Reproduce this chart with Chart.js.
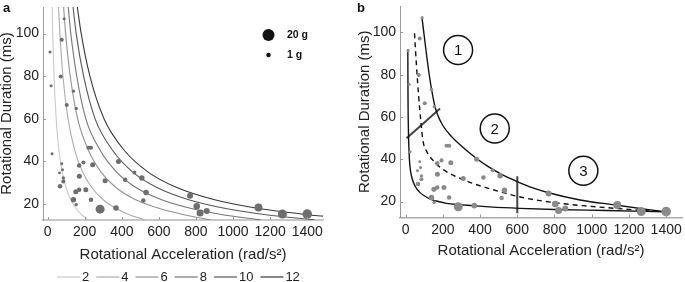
<!DOCTYPE html>
<html>
<head>
<meta charset="utf-8">
<script src="https://cdn.jsdelivr.net/npm/chart.js@4.4.1/dist/chart.umd.min.js"></script>
<style>
  body { margin: 0; background: #fff; width: 685px; height: 282px; overflow: hidden; position: relative; }
  #chartA { position: absolute; left: 0; top: 0; }
  #chartB { position: absolute; left: 340px; top: 0; }
</style>
</head>
<body>
<canvas id="chartA" width="340" height="282"></canvas>
<canvas id="chartB" width="345" height="282"></canvas>
<script>
// impacts: rotational acceleration (rad/s^2), duration (ms), mass (g)
const accel = [89, 76, 13, 71, 19, 139, 103, 154, 24, 220, 234, 76, 193, 64, 80, 170, 243, 382, 85, 85, 171, 67,
  468, 508, 418, 310, 152, 170, 206, 531, 139, 154, 234, 283, 369, 516, 768, 804, 822, 858, 1137, 1266, 1400];
const duration = [107, 97.1, 91.4, 79.9, 75.5, 73, 66.5, 64.9, 43.6, 46.4, 46.4, 38.9, 39.5, 34.6, 36.1, 38.1, 38.4, 40, 32.2, 30.6, 33, 28.3,
  34.8, 32.2, 31.4, 30.9, 25.8, 26.7, 26.7, 25.4, 22, 19.7, 22, 17.6, 18.1, 21.7, 23.9, 18.9, 15.8, 16.7, 18.4, 15.3, 15.3];
const massG = [0.1, 0.6, 0.1, 0.6, 0.1, 0.2, 0.6, 0.2, 0.1, 0.6, 0.6, 0.05, 0.6, 0.05, 0.1, 1.0, 1.5, 1.5, 0.2, 0.6, 1.5, 1.0,
  0.6, 2.0, 1.0, 1.5, 1.5, 1.0, 1.5, 2.0, 2.0, 0.2, 0.9, 9.5, 2.2, 1.0, 2.8, 3.8, 4.6, 2.8, 6.8, 9.5, 11.3];

// iso-lines in panel a, [accel, duration]
const curveLabels = ['2', '4', '6', '8', '10', '12'];
const curve2 = [[24.5, 112.5], [27.5, 100], [34.5, 80], [46, 60], [61, 45], [79, 35], [98, 28], [125, 22], [153, 18], [183, 15], [220, 12.5]];
const curve4 = [[58.5, 112.5], [66, 100], [82.5, 80], [110, 60], [147, 45], [189, 35], [236, 28], [300, 22], [367, 18], [440, 15], [528, 12.5]];
const curve6 = [[86, 112.5], [97, 100], [122, 80], [162, 60], [221, 45], [288, 35], [365, 28], [475, 22], [600, 18], [735, 15], [880, 12.5]];
const curve8 = [[111, 112.5], [125, 100], [157, 80], [206, 60], [285, 45], [372, 35], [472, 28], [615, 22], [770, 18], [945, 15], [1150, 12.5]];
const curve10 = [[137, 112.5], [154, 100], [194, 80], [256, 60], [352, 45], [459, 35], [584, 28], [761, 22], [954, 18], [1177, 15], [1440, 12.5]];
const curve12 = [[160, 112.5], [181, 100], [228, 80], [304, 60], [415, 45], [542, 35], [690, 28], [901, 22], [1132, 18], [1402, 15], [1485, 14.3]];
const curveColors = ['#cacaca', '#adadad', '#939393', '#777777', '#585858', '#383838'];

// panel b boundaries
const upperBound = [[88, 107], [127, 80], [155, 66], [168, 62], [200, 56], [250, 50.5], [300, 46.3], [381, 40.4], [440, 36.8],
  [506, 33.4], [600, 29.5], [680, 26.6], [768, 24.2], [937, 20.8], [1137, 18.3], [1390, 15.2]];
const middleLine = [[48, 99.6], [58, 85], [70, 70], [82, 58], [93, 49], [112, 44], [147, 39.5], [200, 35.3], [260, 32.3], [309, 30.4],
  [362, 28.6], [440, 26.4], [520, 24.4], [600, 22.5], [700, 20.8], [812, 19.4], [950, 18.1], [1116, 16.9], [1250, 16], [1390, 15.2]];
const lowerBound = [[12, 92], [13, 70], [15, 55], [18, 45], [22, 38], [32, 32], [50, 27.5], [75, 24.5], [100, 22.8], [130, 21.3],
  [165, 20.3], [220, 19.2], [280, 18.6], [362, 18.1], [452, 17.5], [614, 16.8], [800, 16.3], [1081, 15.8], [1390, 15.2]];
const splitDiagonal = [[5, 50], [185, 64]];
const splitVertical = [[600, 14.5], [600, 32]];
const zoneX = [282, 479, 955];
const zoneY = [91.7, 54.6, 34.6];
const zoneLabels = ['1', '2', '3'];

const xTicks = [0, 200, 400, 600, 800, 1000, 1200, 1400];
const yTicks = [20, 40, 60, 80, 100];

const FONT = '"Liberation Sans", Arial, sans-serif';
Chart.defaults.font.family = FONT;
Chart.defaults.color = '#222';

const massToRadius = m => 1.2 + 4.8 * Math.sqrt(m / 20);
const toPts = arr => arr.map(p => ({ x: p[0], y: p[1] }));
const impacts = accel.map((a, i) => ({ x: a, y: duration[i] }));

function lineSet(label, pts, color, width, dash) {
  return {
    label, data: toPts(pts), showLine: true, borderColor: color, borderWidth: width,
    borderDash: dash || [], pointRadius: 0, cubicInterpolationMode: 'monotone', fill: false
  };
}

function scalesFor(xMin, xMax, yW, xH, xBorder, yTitlePad, xTitlePad) {
  return {
    x: {
      type: 'linear', min: xMin, max: xMax,
      afterBuildTicks: s => { s.ticks = xTicks.map(v => ({ value: v })); },
      afterFit: s => { s.height = xH; s.paddingLeft = 0; s.paddingRight = 0; },
      grid: { display: false, drawTicks: false },
      border: { color: xBorder.color, width: xBorder.width },
      ticks: { padding: 4, font: { size: 14 }, maxRotation: 0, callback: v => String(v) },
      title: { display: true, text: 'Rotational Acceleration (rad/s²)', font: { size: 15 }, padding: { top: 0, bottom: xTitlePad } }
    },
    y: {
      type: 'linear', min: 12.5, max: 112.5,
      afterBuildTicks: s => { s.ticks = yTicks.map(v => ({ value: v })); },
      afterFit: s => { s.width = yW; s.paddingTop = 0; s.paddingBottom = 0; },
      grid: { display: false, drawTicks: false },
      border: { color: '#999', width: 1 },
      ticks: { padding: 4, font: { size: 14 }, callback: v => String(v) },
      title: { display: true, text: 'Rotational Duration (ms)', font: { size: 15 }, padding: { top: yTitlePad, bottom: 0 } }
    }
  };
}

// small inward tick marks, like the original
const innerTicks = {
  id: 'innerTicks',
  afterDraw(chart) {
    const { ctx, chartArea, scales } = chart;
    ctx.save();
    ctx.strokeStyle = '#999';
    ctx.lineWidth = 1;
    ctx.beginPath();
    xTicks.forEach(v => {
      const px = Math.round(scales.x.getPixelForValue(v)) + 0.5;
      ctx.moveTo(px, chartArea.bottom); ctx.lineTo(px, chartArea.bottom - 3);
    });
    yTicks.forEach(v => {
      const py = Math.round(scales.y.getPixelForValue(v)) + 0.5;
      ctx.moveTo(chartArea.left, py); ctx.lineTo(chartArea.left + 3, py);
    });
    ctx.stroke();
    ctx.restore();
  }
};

const panelLetter = (letter, x) => ({
  id: 'panel' + letter,
  afterDraw(chart) {
    const ctx = chart.ctx;
    ctx.save();
    ctx.fillStyle = '#111';
    ctx.font = 'bold 13px ' + FONT;
    ctx.textBaseline = 'middle';
    ctx.fillText(letter, x, 8);
    ctx.restore();
  }
});

// panel a legends: dot size and iso-line colours
const sizeLegend = {
  id: 'sizeLegend',
  afterDraw(chart) {
    const ctx = chart.ctx;
    ctx.save();
    ctx.fillStyle = '#111';
    ctx.font = 'bold 10.5px ' + FONT;
    ctx.textBaseline = 'middle';
    [[20, 35], [1, 55]].forEach(([m, y]) => {
      ctx.beginPath();
      ctx.arc(268.5, y, massToRadius(m), 0, Math.PI * 2);
      ctx.fill();
      ctx.fillText(m + ' g', 287, y);
    });
    ctx.restore();
  }
};

const curveLegend = {
  id: 'curveLegend',
  afterDraw(chart) {
    const ctx = chart.ctx;
    ctx.save();
    ctx.font = '13px ' + FONT;
    ctx.textBaseline = 'middle';
    let x = 57;
    const y = 277;
    curveLabels.forEach((lab, i) => {
      ctx.strokeStyle = curveColors[i];
      ctx.lineWidth = 1.2;
      ctx.beginPath();
      ctx.moveTo(x, y); ctx.lineTo(x + 23, y);
      ctx.stroke();
      x += 25;
      ctx.fillStyle = '#222';
      ctx.fillText(lab, x, y);
      x += ctx.measureText(lab).width + 7;
    });
    ctx.restore();
  }
};

const zoneText = {
  id: 'zoneText',
  afterDatasetsDraw(chart) {
    const ctx = chart.ctx;
    const meta = chart.getDatasetMeta(0);
    ctx.save();
    ctx.fillStyle = '#111';
    ctx.font = '15px ' + FONT;
    ctx.textAlign = 'center';
    ctx.textBaseline = 'middle';
    meta.data.forEach((pt, i) => ctx.fillText(zoneLabels[i], pt.x, pt.y + 1));
    ctx.restore();
  }
};

const common = {
  responsive: false, animation: false, events: [],
  plugins: { legend: { display: false }, tooltip: { enabled: false } }
};

const curves = [curve2, curve4, curve6, curve8, curve10, curve12];

new Chart(document.getElementById('chartA'), {
  type: 'scatter',
  data: {
    datasets: [
      {
        label: 'impacts', data: impacts, pointRadius: massG.map(massToRadius),
        pointBackgroundColor: '#6e6e6e', pointBorderWidth: 0
      },
      ...curves.map((c, i) => lineSet(curveLabels[i], c, curveColors[i], 1.1))
    ]
  },
  options: {
    ...common,
    layout: { autoPadding: false, padding: { top: 7, right: 17, left: 0, bottom: 0 } },
    scales: scalesFor(-25, 1485, 43, 62, { color: '#c8c8c8', width: 2 }, -2, 18)
  },
  plugins: [innerTicks, sizeLegend, curveLegend, panelLetter('a', 3)]
});

new Chart(document.getElementById('chartB'), {
  type: 'scatter',
  data: {
    datasets: [
      {
        label: 'zones', data: zoneX.map((x, i) => ({ x, y: zoneY[i] })), pointRadius: 14.5,
        pointBackgroundColor: '#fff', pointBorderColor: '#111', pointBorderWidth: 1.5
      },
      {
        label: 'impacts', data: impacts, pointRadius: massG.map(massToRadius),
        pointBackgroundColor: '#8a8a8a', pointBorderWidth: 0
      },
      lineSet('upper', upperBound, '#111', 1.4),
      lineSet('middle', middleLine, '#111', 1.4, [5, 4]),
      lineSet('lower', lowerBound, '#111', 1.4),
      lineSet('split1', splitDiagonal, '#444', 2),
      lineSet('split2', splitVertical, '#444', 2)
    ]
  },
  options: {
    ...common,
    layout: { autoPadding: false, padding: { top: 6, right: 3, left: 0, bottom: 0 } },
    scales: scalesFor(-30, 1485, 60, 64.5, { color: '#aaa', width: 1.5 }, 16, 22)
  },
  plugins: [innerTicks, zoneText, panelLetter('b', 17)]
});
</script>
</body>
</html>
